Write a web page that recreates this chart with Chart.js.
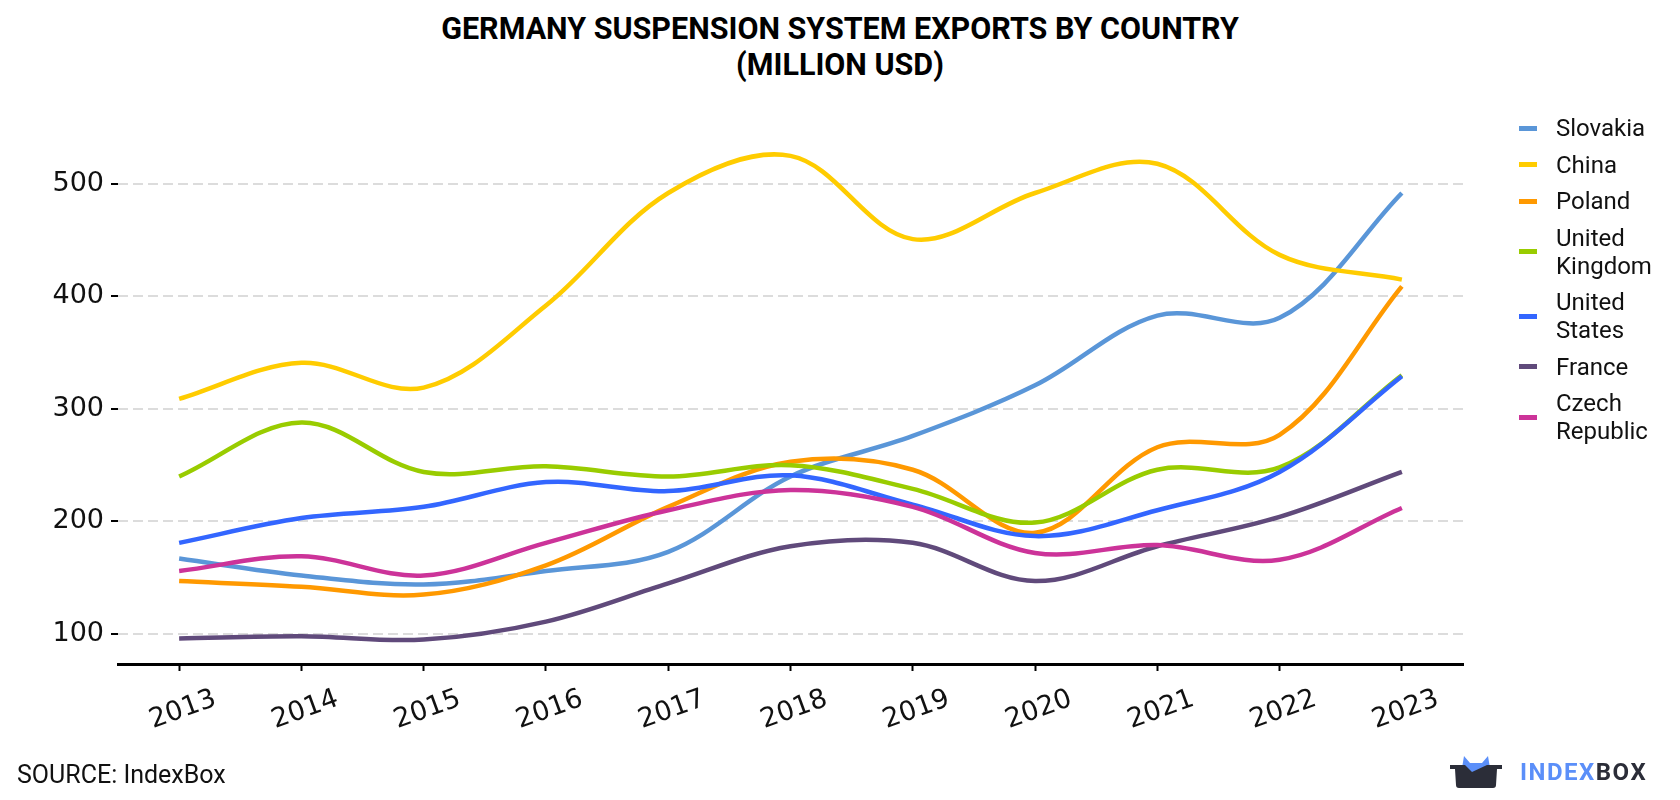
<!DOCTYPE html>
<html>
<head>
<meta charset="utf-8">
<script src="https://cdn.jsdelivr.net/npm/chart.js@4.4.0/dist/chart.umd.min.js"></script>
<style>
  body { margin: 0; width: 1680px; height: 800px; position: relative; background: #fff; font-family: Roboto, sans-serif; overflow: hidden; }
  canvas { position: absolute; left: 0; top: 0; }
  #title { position: absolute; left: 0; top: 11px; width: 1680px; text-align: center; font-weight: 700; font-size: 30.5px; line-height: 36px; color: #000; }
  #legend { position: absolute; left: 1519px; top: 114px; display: flex; flex-direction: column; gap: 8.5px; }
  .item { display: flex; align-items: center; }
  .swatch { width: 18px; height: 5px; margin-right: 19px; flex: none; }
  .label { font-size: 24px; line-height: 28px; color: #111; white-space: pre-line; }
  #source { position: absolute; left: 17px; top: 760px; font-size: 25px; line-height: 30px; color: #111; }
  #logo { position: absolute; left: 1450px; top: 752px; display: flex; align-items: center; }
  #logo .txt { margin-left: 18px; font-weight: 700; font-size: 24px; letter-spacing: 1.5px; line-height: 40px; }
</style>
</head>
<body>
<div id="title">GERMANY SUSPENSION SYSTEM EXPORTS BY COUNTRY<br>(MILLION USD)</div>
<canvas id="chart" width="1680" height="800"></canvas>
<div id="legend"></div>
<div id="source">SOURCE: IndexBox</div>
<div id="logo">
  <svg width="52" height="36" viewBox="0 0 52 36">
    <path d="M12 14 L14 2 L20 9 L32 9 L38 2 L40 14 Z" fill="#5b8ff9"/>
    <path d="M0 11 L52 11 L52 15 L47 15 L46 31 Q46 34 43 34 L9 34 Q6 34 6 31 L5 15 L0 15 Z" fill="#2b2d38"/>
    <path d="M15 11 L22 18 L37 11 Z" fill="#5b8ff9"/>
  </svg>
  <div class="txt"><span style="color:#5b8ff9">INDEX</span><span style="color:#2b2d38">BOX</span></div>
</div>
<script>
// values (million USD)
const years = ['2013', '2014', '2015', '2016', '2017', '2018', '2019', '2020', '2021', '2022', '2023'];
const countries = ['Slovakia', 'China', 'Poland', 'United\nKingdom', 'United\nStates', 'France', 'Czech\nRepublic'];
const colors = ['#5a96d8', '#ffcc00', '#ff9900', '#99cc00', '#3366ff', '#604a7b', '#cc3399'];

const slovakia = [167, 152, 144, 156, 173, 240, 276, 321, 383, 381, 492];
const china = [309, 341, 319, 392, 492, 525, 451, 492, 518, 437, 415];
const poland = [147, 142, 135, 161, 213, 253, 246, 190, 266, 277, 409];
const uk = [240, 288, 244, 249, 240, 250, 229, 199, 246, 248, 330];
const us = [181, 203, 213, 235, 227, 241, 215, 187, 210, 244, 329];
const france = [96, 98, 95, 111, 145, 178, 181, 147, 178, 204, 244];
const czech = [156, 169, 152, 181, 210, 228, 213, 172, 179, 166, 212];

const yTicks = [100, 200, 300, 400, 500];

const series = [slovakia, china, poland, uk, us, france, czech];

// legend
var legend = document.getElementById('legend');
countries.forEach(function (name, i) {
    var item = document.createElement('div');
    item.className = 'item';
    item.innerHTML = '<div class="swatch" style="background:' + colors[i] + '"></div><div class="label"></div>';
    item.querySelector('.label').textContent = name;
    legend.appendChild(item);
});

const datasets = series.map(function (vals, i) {
    return {
        label: countries[i].replace('\n', ' '),
        data: vals,
        borderColor: colors[i],
        backgroundColor: colors[i],
        borderWidth: 4.5,
        pointRadius: 0,
        tension: 0.35,
        fill: false,
        order: -i  // later series drawn on top
    };
});

const tickFont = { family: 'DejaVu Sans', size: 27 };

new Chart(document.getElementById('chart'), {
    type: 'line',
    data: { labels: years, datasets: datasets },
    options: {
        responsive: false,
        animation: false,
        layout: { padding: { top: 140, right: 217, left: 0, bottom: 0 } },
        plugins: { legend: { display: false }, tooltip: { enabled: false } },
        scales: {
            x: {
                offset: true,
                afterFit: function (s) { s.height = 136; },
                grid: { display: true, drawOnChartArea: false, offset: false, tickLength: 7, tickColor: '#000', tickWidth: 2 },
                border: { display: true, color: '#000', width: 3 },
                ticks: { font: tickFont, color: '#111', minRotation: 20, maxRotation: 20, labelOffset: 36, padding: 12, autoSkip: false }
            },
            y: {
                min: 73.3,
                max: 539.1,
                afterFit: function (s) { s.width = 118; },
                afterBuildTicks: function (s) { s.ticks = yTicks.map(function (v) { return { value: v }; }); },
                grid: { color: '#dcdcdc', lineWidth: 2, tickLength: 7, tickColor: '#000', tickWidth: 2, tickBorderDash: [] },
                border: { display: false, dash: [10, 5] },
                ticks: { font: tickFont, color: '#111', padding: 7 }
            }
        }
    }
});
</script>
</body>
</html>
